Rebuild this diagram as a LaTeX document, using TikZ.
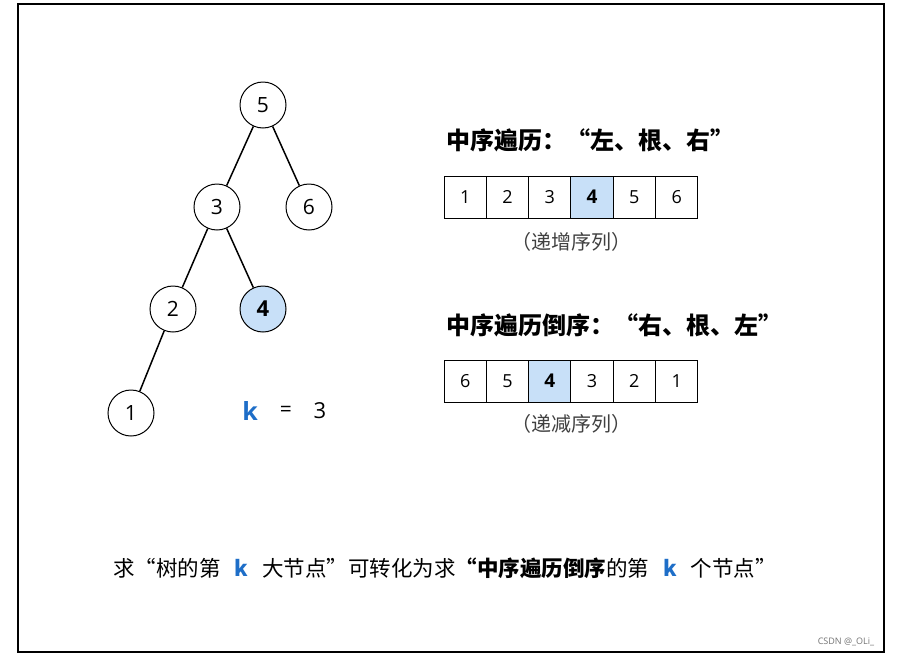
\documentclass[tikz,border=0pt]{standalone}
\usepackage{fontspec}
\setmainfont{Open Sans}
\newfontfamily\cjk{Noto Sans CJK SC}
\begin{document}
\begin{tikzpicture}[x=1pt,y=-1pt,
  tn/.style={circle,draw,line width=1pt,minimum size=46pt,inner sep=0pt,font=\fontsize{21}{21}\selectfont},
  cell/.style={draw,line width=1pt,minimum width=42.3pt,minimum height=42pt,inner sep=0pt,font=\fontsize{18}{18}\selectfont},
  edge/.style={line width=1.5pt},
  ttl/.style={font=\cjk\bfseries\fontsize{24}{24}\selectfont,anchor=west},
  sub/.style={font=\cjk\fontsize{20}{20}\selectfont,text=black!75}]
\useasboundingbox (0,0) rectangle (897,659);
\fill[white] (0,0) rectangle (897,659);
\draw[line width=1.5pt] (18,4) rectangle (884,652);
\definecolor{kb}{RGB}{30,110,200}
\definecolor{lb}{RGB}{200,224,248}
% tree
\node[tn] (n5) at (263,105) {5};
\node[tn] (n3) at (217,207) {3};
\node[tn] (n6) at (309,207) {6};
\node[tn] (n2) at (173,309) {2};
\node[tn,fill=lb,font=\bfseries\fontsize{22}{22}\selectfont] (n4) at (263,309) {4};
\node[tn] (n1) at (131,413) {1};
\draw[edge] (n5)--(n3); \draw[edge] (n5)--(n6);
\draw[edge] (n3)--(n2); \draw[edge] (n3)--(n4);
\draw[edge] (n2)--(n1);
\node[font=\bfseries\fontsize{25}{25}\selectfont,text=kb] (k) at (250,411) {k};
\node[font=\fontsize{21}{21}\selectfont] (eq) at (286,411) {=};
\node[font=\fontsize{22}{22}\selectfont] (three) at (320,411) {3};
% arrays
\node[ttl] (t1) at (443,140) {中序遍历：“左、根、右”};
\foreach \v [count=\i] in {1,2,3,4,5,6}{
  \ifnum\i=4
    \node[cell,fill=lb,font=\bfseries\fontsize{19}{19}\selectfont] (a\i) at ({444+42.3*(\i-0.5)},197) {\v};
  \else
    \node[cell] (a\i) at ({444+42.3*(\i-0.5)},197) {\v};
  \fi}
\node[sub] (s1) at (571,242) {（递增序列）};
\node[ttl] (t2) at (443,325) {中序遍历倒序：“右、根、左”};
\foreach \v [count=\i] in {6,5,4,3,2,1}{
  \ifnum\i=3
    \node[cell,fill=lb,font=\bfseries\fontsize{19}{19}\selectfont] (b\i) at ({444+42.3*(\i-0.5)},381) {\v};
  \else
    \node[cell] (b\i) at ({444+42.3*(\i-0.5)},381) {\v};
  \fi}
\node[sub] (s2) at (571,424) {（递减序列）};
% bottom
\node[font=\cjk\fontsize{21.5}{21.5}\selectfont] (bt) at (445,568) {求“树的第\hspace{14pt}{\bfseries\color{kb}k}\hspace{14pt}大节点”可转化为求{\bfseries “中序遍历倒序}的第\hspace{14pt}{\bfseries\color{kb}k}\hspace{14pt}个节点”};
\node[font=\fontsize{9}{9}\selectfont,text=black!55] (wm) at (846,642) {CSDN @\_OLi\_};
\end{tikzpicture}
\end{document}
